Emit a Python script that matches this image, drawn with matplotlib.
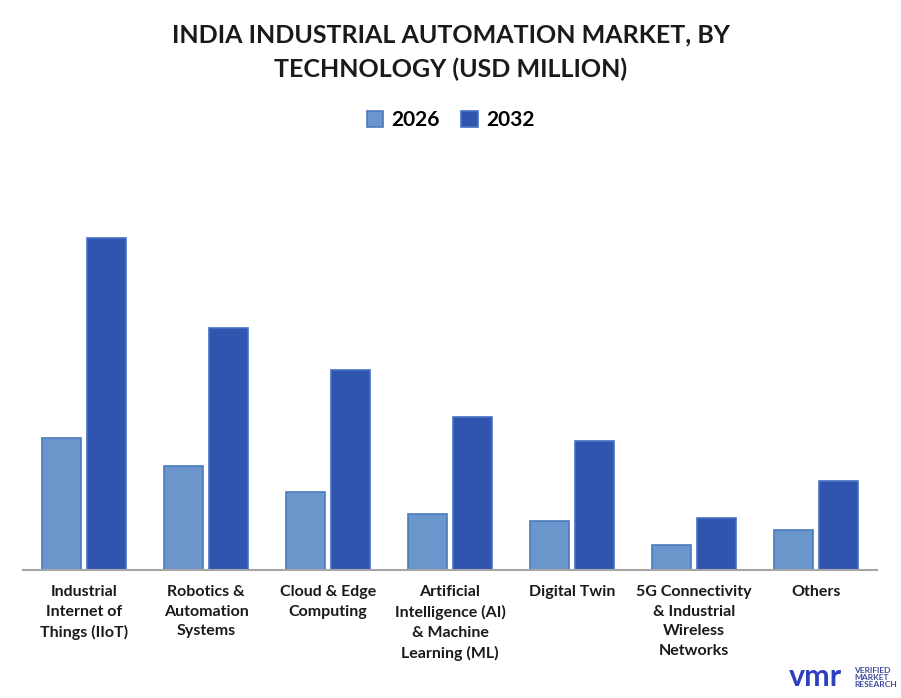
import matplotlib
matplotlib.use('Agg')
import matplotlib.pyplot as plt
import numpy as np

plt.rcParams['font.family'] = ['Lato', 'DejaVu Sans']

categories = ['Industrial\nInternet of\nThings (IIoT)', 'Robotics &\nAutomation\nSystems',
              'Cloud & Edge\nComputing', 'Artificial\nIntelligence (AI)\n& Machine\nLearning (ML)',
              'Digital Twin', '5G Connectivity\n& Industrial\nWireless\nNetworks', 'Others']
values_2026 = [132, 104, 78, 56, 49, 25, 40]
values_2032 = [332, 242, 200, 153, 129, 52, 89]

fig = plt.figure(figsize=(9.01, 6.98), dpi=100)
ax = fig.add_axes([23 / 901, 128 / 698, 854 / 901, 380 / 698])

x = np.arange(len(categories))
w = 0.32
ax.bar(x - 0.186, values_2026, w, color='#6b96cc', edgecolor='#4a7bbd', linewidth=1.2, label='2026')
ax.bar(x + 0.186, values_2032, w, color='#2f55ae', edgecolor='#4570c4', linewidth=1.2, label='2032')

ax.set_xlim(-0.5, len(categories) - 0.5)
ax.set_ylim(0, 380)
ax.set_yticks([])
for s in ['top', 'right', 'left']:
    ax.spines[s].set_visible(False)
ax.spines['bottom'].set_color('#a6a6a6')
ax.spines['bottom'].set_linewidth(1.5)
ax.set_xticks(x)
ax.set_xticklabels(categories, fontsize=11.5, fontweight='bold', color='#1a1a1a', va='top', linespacing=1.5)
ax.tick_params(axis='x', length=0, pad=11)

fig.text(0.5, 0.925, 'INDIA INDUSTRIAL AUTOMATION MARKET, BY\nTECHNOLOGY (USD MILLION)',
         ha='center', va='center', fontsize=18, fontweight='bold', color='#1a1a1a', linespacing=1.6)
fig.legend(loc='center', bbox_to_anchor=(0.5, 0.828), ncol=2, frameon=False,
           prop={'size': 15, 'weight': 'bold'}, handlelength=0.8, handleheight=0.8,
           handletextpad=0.4, columnspacing=1.0)

fig.text(0.905, 0.03, 'vmr', ha='center', va='center', fontsize=22, fontweight='bold', color='#2f3fbf')
fig.text(0.948, 0.03, 'VERIFIED\nMARKET\nRESEARCH', ha='left', va='center', fontsize=6,
         fontweight='bold', color='#3b4aa0', linespacing=1.0)

fig.savefig('out.png', dpi=100)
